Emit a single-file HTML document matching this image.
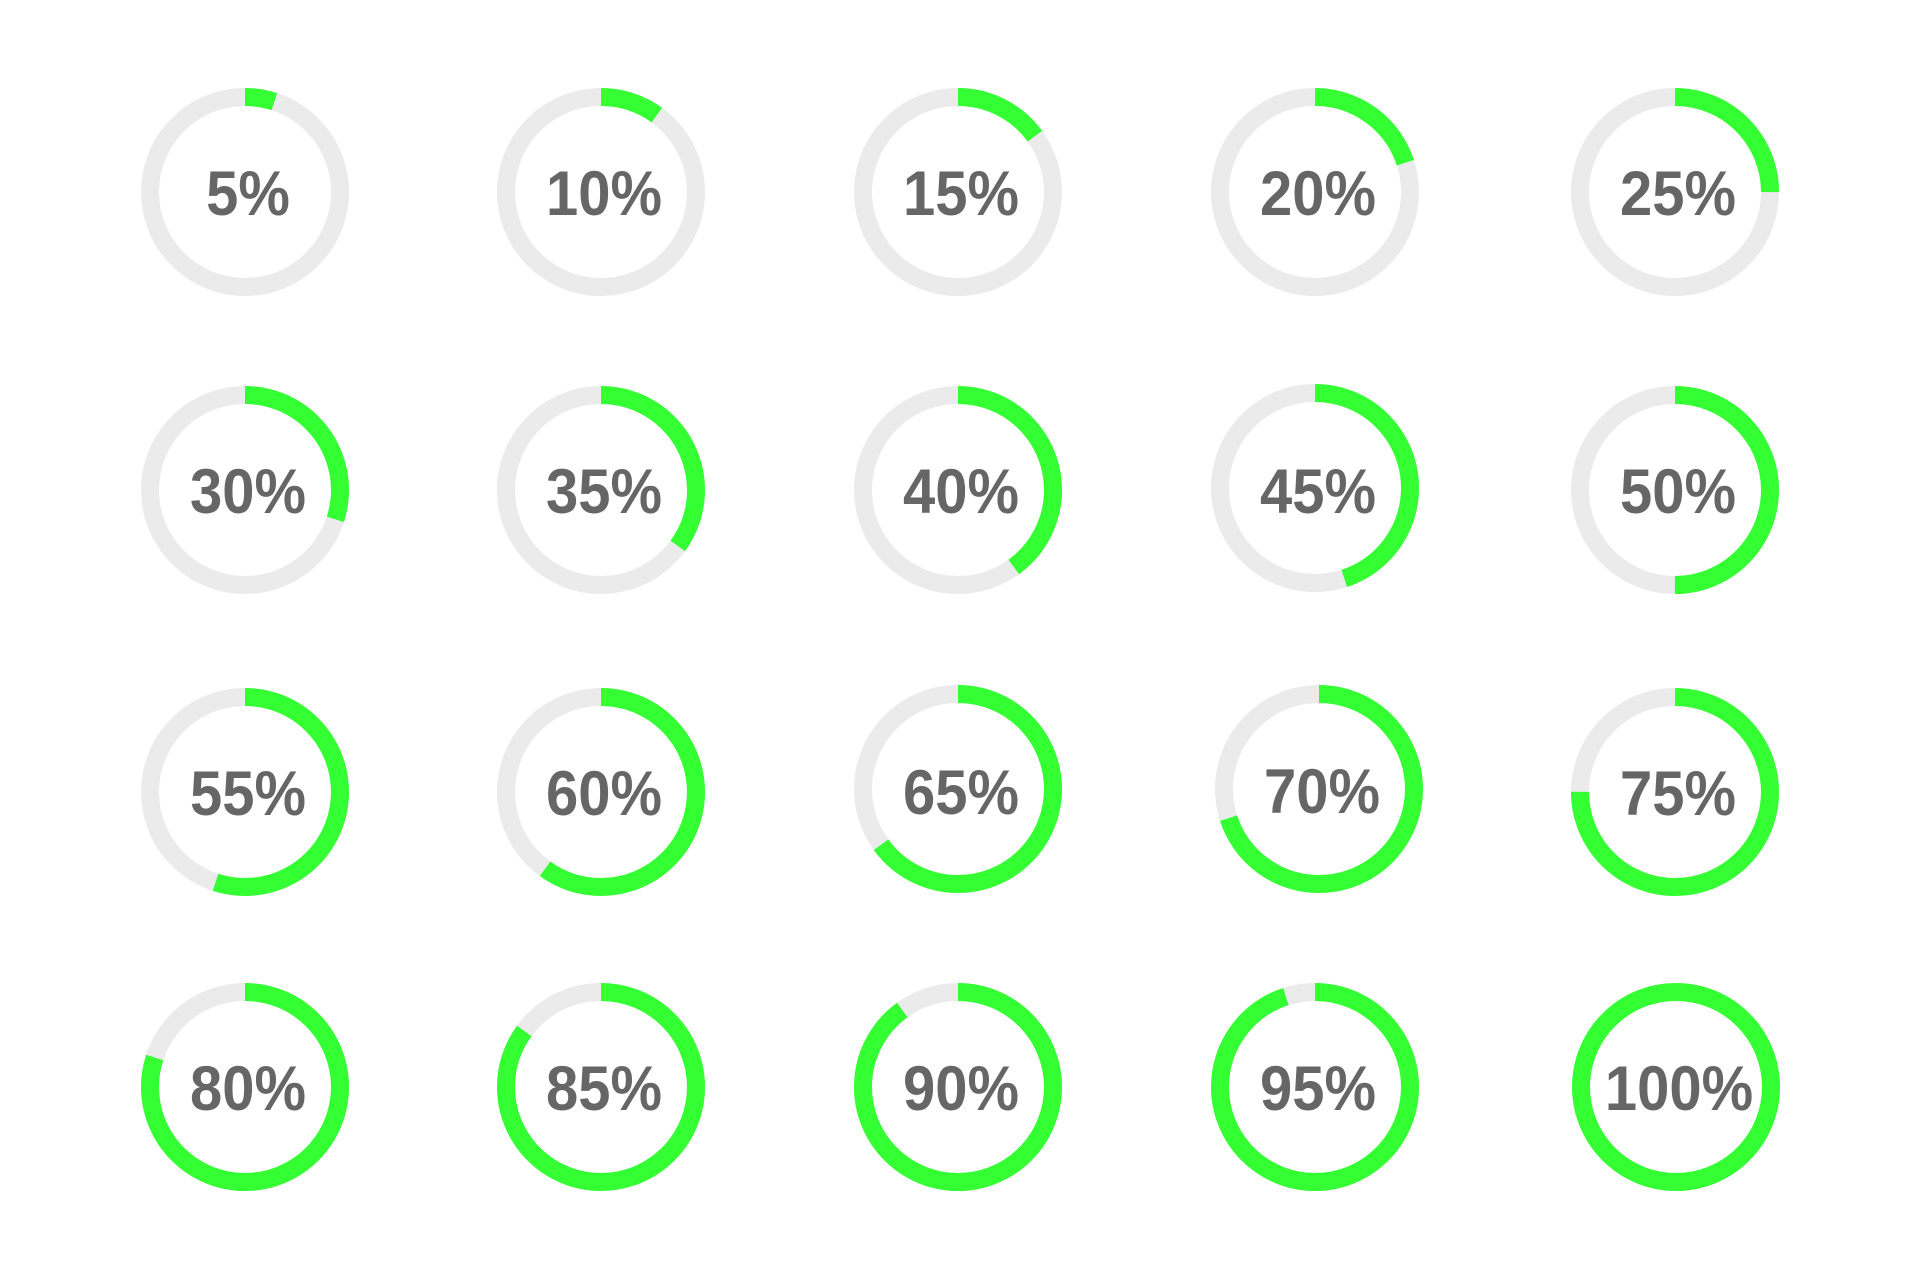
<!DOCTYPE html>
<html><head><meta charset="utf-8"><style>
html,body{margin:0;padding:0;background:#fff;}
svg{display:block}
text{font-family:"Liberation Sans",Arial,sans-serif;font-weight:bold;font-size:63px;fill:#666;text-anchor:middle;transform:translateX(3px) scaleX(0.92)}
</style></head><body>
<svg width="1920" height="1280" viewBox="0 0 1920 1280" xmlns="http://www.w3.org/2000/svg">
<g>
<!-- row 1 -->
<g transform="translate(245,192)"><circle r="95" fill="none" stroke="#ebebeb" stroke-width="18"/><circle r="95" fill="none" stroke="#33ff33" stroke-width="18" stroke-dasharray="29.85 1000" transform="rotate(-90)"/><text y="23">5%</text></g>
<g transform="translate(601,192)"><circle r="95" fill="none" stroke="#ebebeb" stroke-width="18"/><circle r="95" fill="none" stroke="#33ff33" stroke-width="18" stroke-dasharray="59.69 1000" transform="rotate(-90)"/><text y="23">10%</text></g>
<g transform="translate(958,192)"><circle r="95" fill="none" stroke="#ebebeb" stroke-width="18"/><circle r="95" fill="none" stroke="#33ff33" stroke-width="18" stroke-dasharray="89.54 1000" transform="rotate(-90)"/><text y="23">15%</text></g>
<g transform="translate(1315,192)"><circle r="95" fill="none" stroke="#ebebeb" stroke-width="18"/><circle r="95" fill="none" stroke="#33ff33" stroke-width="18" stroke-dasharray="119.38 1000" transform="rotate(-90)"/><text y="23">20%</text></g>
<g transform="translate(1675,192)"><circle r="95" fill="none" stroke="#ebebeb" stroke-width="18"/><circle r="95" fill="none" stroke="#33ff33" stroke-width="18" stroke-dasharray="149.23 1000" transform="rotate(-90)"/><text y="23">25%</text></g>
<!-- row 2 -->
<g transform="translate(245,490)"><circle r="95" fill="none" stroke="#ebebeb" stroke-width="18"/><circle r="95" fill="none" stroke="#33ff33" stroke-width="18" stroke-dasharray="179.07 1000" transform="rotate(-90)"/><text y="23">30%</text></g>
<g transform="translate(601,490)"><circle r="95" fill="none" stroke="#ebebeb" stroke-width="18"/><circle r="95" fill="none" stroke="#33ff33" stroke-width="18" stroke-dasharray="208.92 1000" transform="rotate(-90)"/><text y="23">35%</text></g>
<g transform="translate(958,490)"><circle r="95" fill="none" stroke="#ebebeb" stroke-width="18"/><circle r="95" fill="none" stroke="#33ff33" stroke-width="18" stroke-dasharray="238.76 1000" transform="rotate(-90)"/><text y="23">40%</text></g>
<g transform="translate(1315,488)"><circle r="95" fill="none" stroke="#ebebeb" stroke-width="18"/><circle r="95" fill="none" stroke="#33ff33" stroke-width="18" stroke-dasharray="268.61 1000" transform="rotate(-90)"/><text y="25">45%</text></g>
<g transform="translate(1675,490)"><circle r="95" fill="none" stroke="#ebebeb" stroke-width="18"/><circle r="95" fill="none" stroke="#33ff33" stroke-width="18" stroke-dasharray="298.45 1000" transform="rotate(-90)"/><text y="23">50%</text></g>
<!-- row 3 -->
<g transform="translate(245,792)"><circle r="95" fill="none" stroke="#ebebeb" stroke-width="18"/><circle r="95" fill="none" stroke="#33ff33" stroke-width="18" stroke-dasharray="328.30 1000" transform="rotate(-90)"/><text y="23">55%</text></g>
<g transform="translate(601,792)"><circle r="95" fill="none" stroke="#ebebeb" stroke-width="18"/><circle r="95" fill="none" stroke="#33ff33" stroke-width="18" stroke-dasharray="358.14 1000" transform="rotate(-90)"/><text y="23">60%</text></g>
<g transform="translate(958,789)"><circle r="95" fill="none" stroke="#ebebeb" stroke-width="18"/><circle r="95" fill="none" stroke="#33ff33" stroke-width="18" stroke-dasharray="387.99 1000" transform="rotate(-90)"/><text y="25">65%</text></g>
<g transform="translate(1319,789)"><circle r="95" fill="none" stroke="#ebebeb" stroke-width="18"/><circle r="95" fill="none" stroke="#33ff33" stroke-width="18" stroke-dasharray="417.83 1000" transform="rotate(-90)"/><text y="24">70%</text></g>
<g transform="translate(1675,792)"><circle r="95" fill="none" stroke="#ebebeb" stroke-width="18"/><circle r="95" fill="none" stroke="#33ff33" stroke-width="18" stroke-dasharray="447.68 1000" transform="rotate(-90)"/><text y="23">75%</text></g>
<!-- row 4 -->
<g transform="translate(245,1087)"><circle r="95" fill="none" stroke="#ebebeb" stroke-width="18"/><circle r="95" fill="none" stroke="#33ff33" stroke-width="18" stroke-dasharray="477.52 1000" transform="rotate(-90)"/><text y="23">80%</text></g>
<g transform="translate(601,1087)"><circle r="95" fill="none" stroke="#ebebeb" stroke-width="18"/><circle r="95" fill="none" stroke="#33ff33" stroke-width="18" stroke-dasharray="507.37 1000" transform="rotate(-90)"/><text y="23">85%</text></g>
<g transform="translate(958,1087)"><circle r="95" fill="none" stroke="#ebebeb" stroke-width="18"/><circle r="95" fill="none" stroke="#33ff33" stroke-width="18" stroke-dasharray="537.21 1000" transform="rotate(-90)"/><text y="23">90%</text></g>
<g transform="translate(1315,1087)"><circle r="95" fill="none" stroke="#ebebeb" stroke-width="18"/><circle r="95" fill="none" stroke="#33ff33" stroke-width="18" stroke-dasharray="567.06 1000" transform="rotate(-90)"/><text y="23">95%</text></g>
<g transform="translate(1676,1087)"><circle r="95" fill="none" stroke="#33ff33" stroke-width="18"/><text y="23">100%</text></g>
</g>
</svg>
</body></html>
